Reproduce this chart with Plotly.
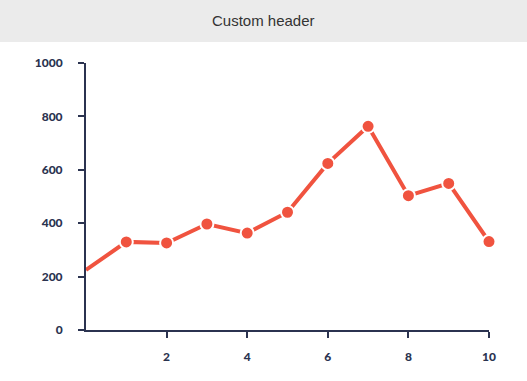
import plotly.graph_objects as go

x_vals = [0, 1, 2, 3, 4, 5, 6, 7, 8, 9, 10]
y_vals = [225, 330, 326, 397, 363, 441, 624, 763, 503, 549, 331]
x_ticks = [2, 4, 6, 8, 10]
y_ticks = [0, 200, 400, 600, 800, 1000]
header_text = "Custom header"

line_color = "#f0533f"
axis_color = "#2b3350"

marker_sizes = [0] + [13] * (len(x_vals) - 1)

fig = go.Figure()
fig.add_trace(go.Scatter(
    x=x_vals, y=y_vals, mode="lines+markers",
    line=dict(color=line_color, width=4),
    marker=dict(color=line_color, size=marker_sizes, opacity=1,
                line=dict(color="white", width=2)),
    cliponaxis=False, showlegend=False,
))

tickfont = dict(family="Lato, Open Sans, sans-serif", size=12, color=axis_color, weight=900)

fig.update_layout(
    width=527, height=381,
    margin=dict(l=86, r=38, t=63, b=51),
    paper_bgcolor="white", plot_bgcolor="white",
    xaxis=dict(range=[0, 10], tickvals=x_ticks, showgrid=False, zeroline=False,
               showline=True, linecolor=axis_color, linewidth=2,
               ticks="outside", ticklen=6, tickwidth=2, tickcolor=axis_color,
               tickfont=tickfont, ticklabelstandoff=9),
    yaxis=dict(range=[0, 1000], tickvals=y_ticks, showgrid=False, zeroline=False,
               showline=True, linecolor=axis_color, linewidth=2,
               ticks="outside", ticklen=6, tickwidth=2, tickcolor=axis_color,
               tickfont=tickfont, ticklabelstandoff=13),
    shapes=[dict(type="rect", xref="paper", yref="paper", x0=-1, x1=2,
                 y0=1 + 21/267, y1=1 + 70/267, fillcolor="#ebebeb", line=dict(width=0),
                 layer="below")],
    annotations=[dict(text=header_text, xref="paper", yref="paper",
                      x=(263.5 - 86) / 403, y=(330 - 20) / 267,
                      showarrow=False, xanchor="center", yanchor="middle",
                      font=dict(family="Liberation Sans, Arial, sans-serif", size=15, color="#333333"))],
)
fig.write_html("out.html")
